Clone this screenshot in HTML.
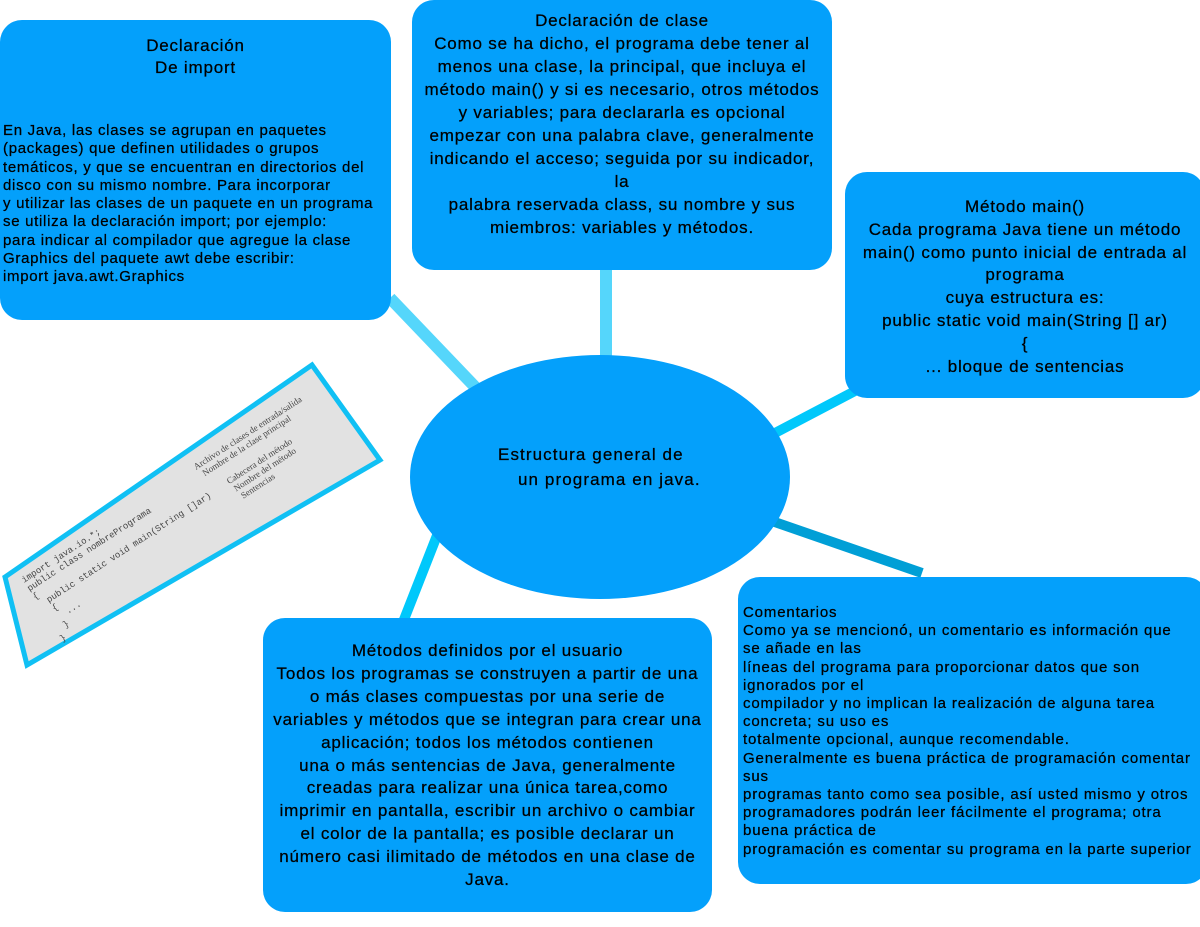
<!DOCTYPE html>
<html><head><meta charset="utf-8"><style>
body{margin:0;width:1200px;height:927px;background:#fff;position:relative;overflow:hidden;font-family:"Liberation Sans",sans-serif;color:#000}
.b{position:absolute;background:#04a0fb;border-radius:22px}
.t{position:absolute;white-space:pre;-webkit-text-stroke:0.25px #000}
.c{text-align:center}
.h{font-size:17px;letter-spacing:0.8px}
.s{font-size:15px;letter-spacing:0.8px}
</style></head><body>
<svg width="1200" height="927" style="position:absolute;left:0;top:0">
<line x1="390" y1="298" x2="478" y2="390" stroke="#55d6fb" stroke-width="12"/>
<line x1="606" y1="265" x2="606" y2="360" stroke="#55d6fb" stroke-width="12"/>
<line x1="775" y1="433" x2="855" y2="391" stroke="#00c8fb" stroke-width="10"/>
<line x1="447" y1="510" x2="396" y2="640" stroke="#00c8fb" stroke-width="10"/>
<line x1="740" y1="510" x2="922" y2="573" stroke="#009fd6" stroke-width="10"/>
</svg>
<div class="b" style="left:0;top:20px;width:391px;height:300px"></div>
<div class="b" style="left:412px;top:0;width:420px;height:270px"></div>
<div class="b" style="left:845px;top:172px;width:360px;height:226px"></div>
<div class="b" style="left:263px;top:618px;width:449px;height:294px"></div>
<div class="b" style="left:738px;top:577px;width:470px;height:307px"></div>
<svg width="1200" height="927" style="position:absolute;left:0;top:0">
<ellipse cx="600" cy="477" rx="190" ry="122" fill="#04a0fb"/>
<polygon points="5,577 312,365 380,460 27,665" fill="#e2e2e2" stroke="#10c0f4" stroke-width="5"/>
<g transform="translate(24,583) rotate(-33)" font-family="Liberation Mono,monospace" font-size="9" fill="#444">
<text x="0" y="0">import java.io.*;</text>
<text x="0" y="10">public class nombrePrograma</text>
<text x="0" y="20">{</text>
<text x="10" y="30">public static void main(String []ar)</text>
<text x="10" y="40">{</text>
<text x="20" y="50">...</text>
<text x="10" y="60">}</text>
<text x="0" y="70">}</text>
</g>
<g transform="translate(196,470) rotate(-33)" font-family="Liberation Serif,serif" font-size="9" fill="#444">
<text x="0" y="0">Archivo de clases de entrada/salida</text>
<text x="4" y="10">Nombre de la clase principal</text>
<text x="20" y="30">Cabecera del método</text>
<text x="22" y="40">Nombre del método</text>
<text x="24" y="50">Sentencias</text>
</g>
<text x="498" y="460" font-size="17" letter-spacing="1.1" stroke="#000" stroke-width="0.25">Estructura general de</text>
<text x="518" y="485" font-size="17" letter-spacing="1.1" stroke="#000" stroke-width="0.25">un programa en java.</text>
</svg>
<div class="t c h" style="left:0;width:391px;top:35px;line-height:22px">Declaración
De import</div>
<div class="t s" style="left:3px;top:122px;letter-spacing:0.7px;line-height:18.3px">En Java, las clases se agrupan en paquetes
(packages) que definen utilidades o grupos
temáticos, y que se encuentran en directorios del
disco con su mismo nombre. Para incorporar
y utilizar las clases de un paquete en un programa
se utiliza la declaración import; por ejemplo:
para indicar al compilador que agregue la clase
Graphics del paquete awt debe escribir:
import java.awt.Graphics</div>
<div class="t c h" style="left:412px;width:420px;top:9px;line-height:23px">Declaración de clase
Como se ha dicho, el programa debe tener al
menos una clase, la principal, que incluya el
método main() y si es necesario, otros métodos
y variables; para declararla es opcional
empezar con una palabra clave, generalmente
indicando el acceso; seguida por su indicador,
la
palabra reservada class, su nombre y sus
miembros: variables y métodos.</div>
<div class="t c h" style="left:845px;width:360px;top:196px;line-height:22.8px">Método main()
Cada programa Java tiene un método
main() como punto inicial de entrada al
programa
cuya estructura es:
public static void main(String [] ar)
{
... bloque de sentencias</div>
<div class="t c h" style="left:263px;width:449px;top:640px;line-height:22.9px">Métodos definidos por el usuario
Todos los programas se construyen a partir de una
o más clases compuestas por una serie de
variables y métodos que se integran para crear una
aplicación; todos los métodos contienen
una o más sentencias de Java, generalmente
creadas para realizar una única tarea,como
imprimir en pantalla, escribir un archivo o cambiar
el color de la pantalla; es posible declarar un
número casi ilimitado de métodos en una clase de
Java.</div>
<div class="t s" style="left:743px;top:604px;letter-spacing:0.85px;line-height:18.2px">Comentarios
Como ya se mencionó, un comentario es información que
se añade en las
líneas del programa para proporcionar datos que son
ignorados por el
compilador y no implican la realización de alguna tarea
concreta; su uso es
totalmente opcional, aunque recomendable.
Generalmente es buena práctica de programación comentar
sus
programas tanto como sea posible, así usted mismo y otros
programadores podrán leer fácilmente el programa; otra
buena práctica de
programación es comentar su programa en la parte superior</div>
</body></html>
